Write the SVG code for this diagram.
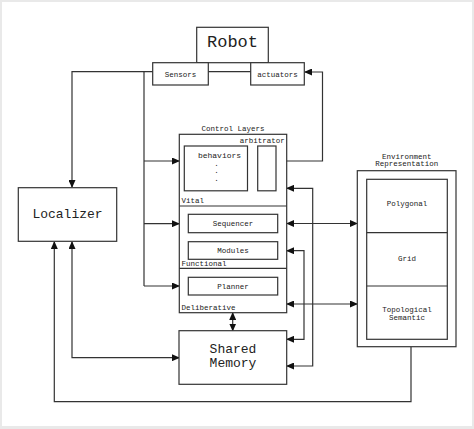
<svg xmlns="http://www.w3.org/2000/svg" width="474" height="429" viewBox="0 0 474 429">
<defs>
<style>
.bx{fill:#fff;stroke:#333;stroke-width:1.2}
.ln{fill:none;stroke:#333;stroke-width:1.2}
.t{font-family:"Liberation Mono","DejaVu Sans Mono",monospace;fill:#222}
.s{font-size:7.5px}
.m{text-anchor:middle}
.big{font-size:13px}
</style>
<marker id="ah" markerWidth="8" markerHeight="7" refX="7" refY="3.5" orient="auto-start-reverse" markerUnits="userSpaceOnUse">
<path d="M0,0 L8,3.5 L0,7 Z" fill="#111"/>
</marker>
</defs>
<rect x="0" y="0" width="474" height="429" fill="#e9e9e9"/>
<rect x="2" y="2" width="470" height="424" fill="#fff"/>

<g id="connectors">
<!-- sensors to localizer -->
<path class="ln" d="M153,71.7 H72 V187" marker-end="url(#ah)"/>
<!-- sensors to actuators -->
<path class="ln" d="M208,71.7 H251"/>
<!-- sensors down to layers -->
<path class="ln" d="M144,71.7 V286"/>
<path class="ln" d="M144,161 H179" marker-end="url(#ah)"/>
<path class="ln" d="M144,223.7 H179" marker-end="url(#ah)"/>
<path class="ln" d="M144,286 H179" marker-end="url(#ah)"/>
<!-- arbitrator to actuators -->
<path class="ln" d="M276,167.3 L286.7,161 H322.5 V72 H305" marker-end="url(#ah)"/>
<!-- behaviors to arbitrator -->
<path class="ln" d="M247.5,169 H257.7"/>
<!-- shared memory to vital -->
<path class="ln" d="M287,366 H312.7 V188.3 H287" marker-start="url(#ah)" marker-end="url(#ah)"/>
<!-- shared memory to modules -->
<path class="ln" d="M287,339.3 H304 V250.7 H287" marker-start="url(#ah)" marker-end="url(#ah)"/>
<!-- sequencer to env -->
<path class="ln" d="M287,223.5 H357" marker-start="url(#ah)" marker-end="url(#ah)"/>
<!-- deliberative to env -->
<path class="ln" d="M287,304 H357" marker-start="url(#ah)" marker-end="url(#ah)"/>
<!-- layers to shared memory -->
<path class="ln" d="M232.7,313 V330.5" marker-start="url(#ah)" marker-end="url(#ah)"/>
<!-- localizer to shared memory -->
<path class="ln" d="M72,242 V357.7 H179" marker-start="url(#ah)" marker-end="url(#ah)"/>
<!-- env to localizer -->
<path class="ln" d="M411,347 V401.7 H54.3 V242" marker-end="url(#ah)"/>
</g>

<g id="robot">
<rect class="bx" x="196.7" y="27.3" width="71.6" height="35.4"/>
<text class="t m" x="232.5" y="47" font-size="17">Robot</text>
</g>
<g id="sensors">
<rect class="bx" x="152.7" y="62.7" width="55.6" height="22.3"/>
<text class="t s m" x="180.5" y="76.5">Sensors</text>
</g>
<g id="actuators">
<rect class="bx" x="250.7" y="62.7" width="53.6" height="22.3"/>
<text class="t s m" x="277.5" y="76.5">actuators</text>
</g>

<g id="localizer">
<rect class="bx" x="18.3" y="187.7" width="98.4" height="53.6"/>
<text class="t big m" x="67.5" y="218">Localizer</text>
</g>

<g id="control-layers">
<text class="t s m" x="233" y="131">Control Layers</text>
<rect class="bx" x="179.3" y="134.3" width="107.4" height="178.4"/>
<line class="ln" x1="179.3" y1="206" x2="286.7" y2="206"/>
<line class="ln" x1="179.3" y1="268.3" x2="286.7" y2="268.3"/>
<text class="t s" x="181.5" y="203">Vital</text>
<text class="t s" x="181.5" y="266">Functional</text>
<text class="t s" x="181.5" y="309.5">Deliberative</text>
</g>
<g id="behaviors">
<rect class="bx" x="184.3" y="146" width="63.2" height="44.8"/>
<text class="t m" x="219.5" y="158" font-size="8">behaviors</text>
<text class="t s m" x="216.5" y="166">.</text>
<text class="t s m" x="216.5" y="173.3">.</text>
<text class="t s m" x="216.5" y="180.7">.</text>
</g>
<g id="arbitrator">
<text class="t s m" x="262.3" y="143">arbitrator</text>
<rect class="bx" x="257.7" y="146" width="18.3" height="44.8"/>
</g>
<g id="sequencer">
<rect class="bx" x="188.3" y="214.3" width="89.4" height="18.4"/>
<text class="t s m" x="233" y="226">Sequencer</text>
</g>
<g id="modules">
<rect class="bx" x="188.3" y="241.7" width="89.4" height="17.6"/>
<text class="t s m" x="233" y="253">Modules</text>
</g>
<g id="planner">
<rect class="bx" x="188.3" y="277.3" width="89.4" height="17.7"/>
<text class="t s m" x="233" y="288.5">Planner</text>
</g>

<g id="shared-memory">
<rect class="bx" x="179" y="330.7" width="107.7" height="53.6"/>
<text class="t big m" x="233" y="353">Shared</text>
<text class="t big m" x="233" y="367">Memory</text>
</g>

<g id="environment">
<text class="t s m" x="406.7" y="158.5">Environment</text>
<text class="t s m" x="406.7" y="166.3">Representation</text>
<rect class="bx" x="357.3" y="170.7" width="98.7" height="176"/>
<rect class="bx" x="366.7" y="179.3" width="80.6" height="160"/>
<line class="ln" x1="366.7" y1="232.7" x2="447.3" y2="232.7"/>
<line class="ln" x1="366.7" y1="286" x2="447.3" y2="286"/>
<text class="t s m" x="407" y="206">Polygonal</text>
<text class="t s m" x="407" y="261">Grid</text>
<text class="t s m" x="407" y="312">Topological</text>
<text class="t s m" x="407" y="319.5">Semantic</text>
</g>
</svg>
